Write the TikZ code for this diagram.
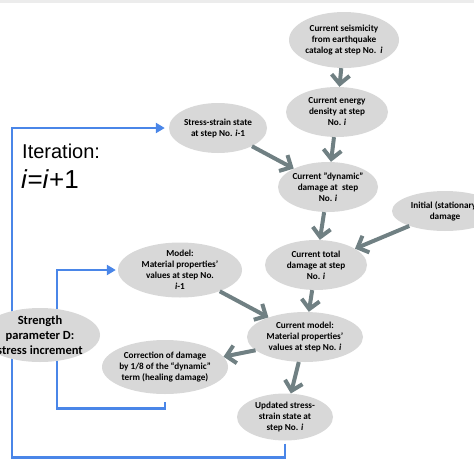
\documentclass[tikz,border=0pt]{standalone}
\usepackage{fontspec}
\setmainfont{Carlito}
\newfontfamily\arialfam{Liberation Sans}
\usetikzlibrary{arrows.meta,shapes.geometric}
\definecolor{grisfl}{RGB}{112,128,131}
\definecolor{bleufl}{RGB}{74,134,232}
\definecolor{grisell}{RGB}{216,216,216}
\tikzset{
  stepnode/.style = {ellipse, align=center, inner sep=-5pt, fill=grisell,
    font=\fontsize{9.2}{11}\selectfont\bfseries},% etape du calcul
  flow_g/.style = {draw=grisfl, line width=4pt,
    -{Straight Barb[length=9pt,width=18pt]}},% fleche grise
  flow_b/.style = {draw=bleufl, line width=2.6pt,
    -{Triangle[length=9pt,width=10pt]}},% boucle bleue
}

\begin{document}
\begin{tikzpicture}[x=1pt,y=-1pt]
\useasboundingbox (0,0) rectangle (474,474);
\clip (0,0) rectangle (474,474);
\fill[gray!15] (0,0) rectangle (474,3);
% etapes
\node[stepnode, minimum width=110pt, minimum height=56pt] (n1) at (344,40)
  {Current seismicity\\from earthquake\\catalog at step No.~~\textit{i}};
\node[stepnode, minimum width=102pt, minimum height=50pt] (n2) at (337,112)
  {Current energy\\density at step\\No. \textit{i}};
\node[stepnode, minimum width=98pt, minimum height=50pt] (n3) at (218,128)
  {Stress-strain state\\at step No. \textit{i}-1};
\node[stepnode, minimum width=100pt, minimum height=50pt] (n4) at (328,187)
  {Current "dynamic"\\damage at~ step\\No. \textit{i}};
\node[stepnode, minimum width=106pt, minimum height=40pt] (n5) at (445,211)
  {Initial (stationary)\\damage};
\node[stepnode, minimum width=102pt, minimum height=50pt] (n6) at (316,265)
  {Current total\\damage at step\\No. \textit{i}};
\node[stepnode, minimum width=124pt, minimum height=55pt] (n7) at (180,270)
  {Model:\\Material properties'\\values at step No.\\\textit{i}-1};
\node[stepnode, minimum width=116pt, minimum height=50pt] (n8) at (305,337)
  {Current model:\\Material properties'\\values at step No. \textit{i}};
\node[stepnode, minimum width=126pt, minimum height=54pt] (n9) at (165,367)
  {Correction of damage\\by 1/8 of the ``dynamic''\\term (healing damage)};
\node[stepnode, minimum width=96pt, minimum height=47pt] (n10) at (285,417)
  {Updated stress-\\strain state at\\step No. \textit{i}};
% fleches grises
\draw[flow_g] (n1) -- (n2);
\draw[flow_g] (n2) -- (n4);
\draw[flow_g] (n3) -- (n4);
\draw[flow_g] (n4) -- (n6);
\draw[flow_g] (n5) -- (n6);
\draw[flow_g] (n6) -- (n8);
\draw[flow_g] (n7) -- (n8);
\draw[flow_g] (n8.195) -- (n9.10);
\draw[flow_g] (n8) -- (n10);
% boucles bleues
\draw[flow_b] ([yshift=-3pt]n10.south) -- ++(0,14) -| (12,300) |- ([xshift=-4pt]n3.west);
\draw[flow_b] ([yshift=-8pt]n9.south) -- ++(0,6) -| (57,300) |- ([xshift=-2pt]n7.west);
\node[stepnode, minimum width=120pt, minimum height=54pt,
  font=\fontsize{12.5}{15}\selectfont\bfseries] (n11) at (40,335)
  {Strength\\parameter D:\\stress increment};
% iteration
\node[font=\arialfam\fontsize{20}{24}\selectfont, anchor=base west, inner sep=0pt]
  (iter) at (22,158) {Iteration:};
\node[font=\arialfam\fontsize{26}{30}\selectfont, anchor=base west, inner sep=0pt]
  (incr) at (21,188) {\textit{i}=\textit{i}+1};
\end{tikzpicture}
\end{document}
